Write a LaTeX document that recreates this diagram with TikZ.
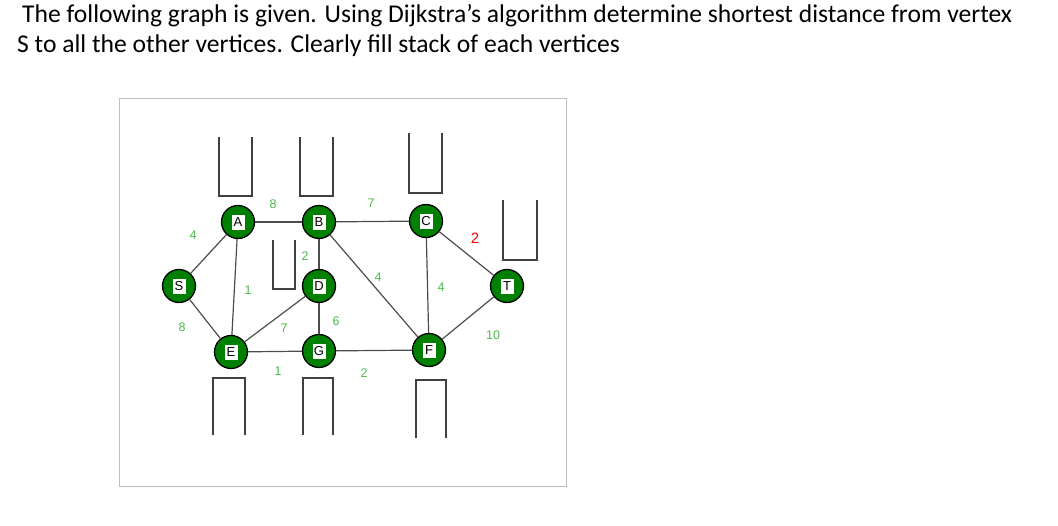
\documentclass[tikz,border=0pt]{standalone}
\usepackage{fontspec}
\setmainfont{Carlito}
\newfontfamily\arialf{Liberation Sans}
\begin{document}
\begin{tikzpicture}[x=1pt,y=-1pt,
  vtx/.style={circle,draw=black,line width=1.3pt,fill=green!50!black,minimum size=33pt,inner sep=0pt},
  lab/.style={fill=white,inner sep=1pt,font=\arialf\fontsize{13}{13}\selectfont,minimum width=13pt,minimum height=15pt},
  wt/.style={font=\arialf\fontsize{12.5}{12.5}\selectfont,text=green!60!black!70!white},
  edge/.style={draw=black!70,line width=1.2pt},
  stk/.style={draw=black!75,line width=1.1pt}]
\useasboundingbox (0,0) rectangle (1058,525);
\node[anchor=base west,font=\fontsize{25.6}{25.6}\selectfont,inner sep=0pt] (t1) at (22,22) {The following graph is given. Using Dijkstra’s algorithm determine shortest distance from vertex};
\node[anchor=base west,font=\fontsize{25.6}{25.6}\selectfont,inner sep=0pt] (t2) at (17,52) {S to all the other vertices. Clearly fill stack of each vertices};
\draw[black!25,line width=0.8pt] (119,98) rectangle (566,486);
\coordinate (pS) at (179,286); \coordinate (pA) at (238,222); \coordinate (pB) at (319,222);
\coordinate (pC) at (426,221); \coordinate (pD) at (319,286); \coordinate (pT) at (507,286);
\coordinate (pE) at (231,352); \coordinate (pG) at (319,351); \coordinate (pF) at (429,350);
\foreach \n in {S,A,B,C,D,T,E,G,F}{\node[vtx] (\n) at (p\n) {}; \node[lab] (l\n) at (p\n) {\n};}
\draw[edge] (S)--(A); \draw[edge] (S)--(E); \draw[edge] (A)--(B); \draw[edge] (A)--(E);
\draw[edge] (B)--(C); \draw[edge] (B)--(D); \draw[edge] (B)--(F); \draw[edge] (C)--(F);
\draw[edge] (C)--(T); \draw[edge] (D)--(E); \draw[edge] (D)--(G); \draw[edge] (E)--(G);
\draw[edge] (G)--(F); \draw[edge] (F)--(T);
\node[wt] (w1) at (273,204) {8}; \node[wt] (w2) at (371,203) {7};
\node[wt] (w3) at (193,235) {4}; \node[text=red,font=\arialf\fontsize{15}{15}\selectfont] (w4) at (475,238) {2};
\node[wt] (w5) at (305,256) {2}; \node[wt] (w6) at (248,290) {1};
\node[wt] (w7) at (378,277) {4}; \node[wt] (w8) at (441,287) {4};
\node[wt] (w9) at (182,327) {8}; \node[wt] (w10) at (284,328) {7};
\node[wt] (w11) at (336,321) {6}; \node[wt] (w12) at (493,335) {10};
\node[wt] (w13) at (278,371) {1}; \node[wt] (w14) at (364,373) {2};
\draw[stk] (219,137) -- (219,196) -- (252,196) -- (252,137);
\draw[stk] (300,137) -- (300,196) -- (333,196) -- (333,137);
\draw[stk] (409,133) -- (409,193) -- (442,193) -- (442,133);
\draw[stk] (503,200) -- (503,260) -- (537,260) -- (537,200);
\draw[stk] (273,240) -- (273,289) -- (295,289) -- (295,240);
\draw[stk] (213,435) -- (213,378) -- (245,378) -- (245,435);
\draw[stk] (303,435) -- (303,378) -- (333,378) -- (333,435);
\draw[stk] (416,438) -- (416,380) -- (446,380) -- (446,438);
\end{tikzpicture}
\end{document}
